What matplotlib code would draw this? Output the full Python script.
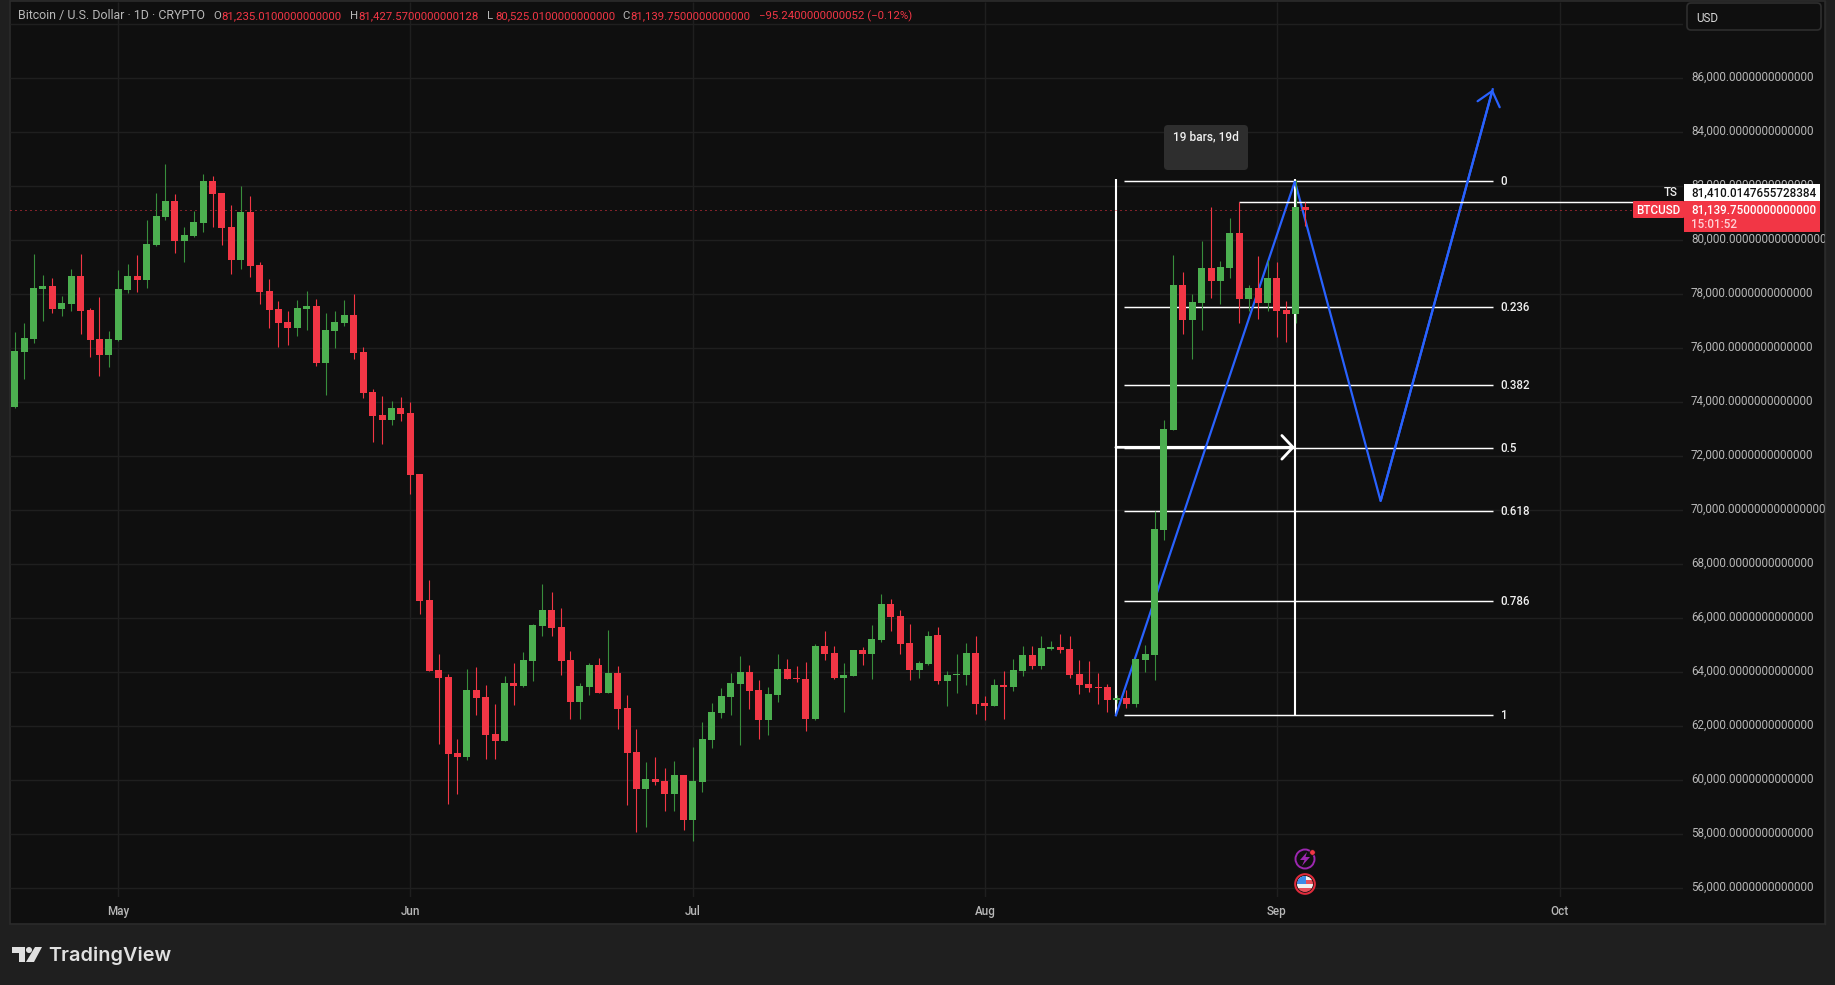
import matplotlib
matplotlib.use('Agg')
import matplotlib.pyplot as plt
from matplotlib.patches import Rectangle, Circle, FancyBboxPatch, Polygon

# daily candles, Apr 20 to Sep 4
opens = [73830, 75860, 76340, 78200, 78310, 77460, 77640, 78680, 77420, 76340, 75750, 76310, 78160, 78680,
         78530, 79830, 80860, 81460, 79970, 80160, 80640, 82200, 81750, 80490, 79270, 81050, 79090, 78120,
         77460, 76970, 76750, 77460, 77570, 75460, 76640, 76940, 77230, 75860, 74380, 73530, 73340, 73790,
         73600, 71340, 66680, 64090, 63830, 61010, 60860, 63350, 63090, 61720, 61460, 63600, 63490, 64420,
         65720, 66310, 65680, 64460, 62900, 63460, 64270, 63230, 63980, 62680, 61050, 59680, 60050, 59980,
         59490, 60200, 58530, 59940, 61490, 62490, 63090, 63570, 64010, 63350, 62230, 63160, 64120, 63790,
         63750, 62270, 64980, 64720, 63790, 63860, 64830, 64680, 65200, 66530, 66090, 65090, 64090, 64310,
         65380, 63680, 63900, 63900, 64720, 62860, 62750, 63530, 63460, 64050, 64640, 64230, 64860, 64940,
         64860, 63940, 63570, 63460, 63460, 62980, 63050, 62830, 64460, 64640, 69270, 72980, 78350, 77050,
         77680, 78980, 78490, 78980, 80270, 77830, 78230, 77680, 78600, 77420, 77270, 81235.01]
highs = [76600, 76940, 79490, 78720, 78600, 77940, 78940, 79490, 77490, 77900, 76640, 78900, 79120, 79460,
         80750, 81750, 82830, 81720, 80490, 81090, 82460, 82380, 81760, 81310, 82010, 81640, 79200, 78570,
         77750, 77380, 77790, 78120, 77830, 77310, 77380, 77790, 78010, 76050, 74490, 74230, 74050, 74200,
         74010, 71350, 67420, 64680, 63940, 61530, 64120, 64200, 63530, 62830, 63860, 64340, 64750, 65790,
         67270, 66980, 66380, 64790, 63600, 64350, 64530, 65570, 64230, 63160, 61900, 60680, 60860, 60460,
         60720, 60210, 61230, 62160, 62860, 63420, 63980, 64600, 64270, 63720, 63460, 64680, 64490, 64230,
         64380, 65050, 65530, 64980, 64350, 64840, 64940, 65750, 66900, 66720, 66310, 65790, 64420, 65530,
         65680, 64050, 64680, 65090, 65350, 63120, 63750, 64050, 64490, 64980, 64980, 65350, 65160, 65420,
         65350, 64460, 64420, 63980, 63570, 63160, 63350, 64500, 65010, 69980, 73350, 79460, 78830, 78010,
         79980, 81230, 79230, 80830, 81420, 78350, 79420, 79270, 79200, 77750, 82230, 81427.57]
lows = [73790, 74860, 76200, 77010, 77310, 77200, 77380, 76530, 75680, 74970, 75310, 76270, 78050, 78090,
        78230, 79790, 80750, 79530, 79200, 80120, 80310, 80490, 79830, 78750, 78940, 78640, 77640, 76750,
        76050, 76120, 76460, 76680, 75340, 74270, 76010, 76830, 75600, 74160, 72530, 72460, 73160, 73310,
        70600, 66160, 64040, 61340, 59120, 59490, 60750, 62420, 60790, 60790, 61440, 62790, 63460, 63680,
        65350, 65350, 63900, 62270, 62270, 63160, 63220, 63220, 61900, 59090, 58090, 58270, 59830, 58860,
        58860, 58160, 57750, 59570, 61200, 62310, 62420, 61310, 62640, 61530, 61680, 62900, 63740, 63640,
        61830, 62230, 64460, 63750, 62530, 63850, 64270, 63750, 65120, 65530, 64680, 63720, 63790, 64270,
        63570, 62750, 63230, 63530, 62460, 62230, 62740, 62270, 63310, 63860, 64120, 64120, 64830, 64720,
        63790, 63200, 63270, 62830, 62530, 62860, 62680, 62720, 64010, 63720, 68900, 72960, 76530, 75600,
        76680, 77860, 77640, 78600, 76940, 77380, 77090, 77380, 76420, 76230, 76940, 80525.01]
closes = [75900, 76380, 78230, 78310, 77460, 77680, 78680, 77380, 76310, 75750, 76340, 78200, 78680, 78530,
          79860, 80900, 81460, 79970, 80200, 80680, 82200, 81720, 80460, 79270, 81050, 79050, 78090, 77420,
          76940, 76750, 77490, 77570, 75460, 76680, 76970, 77230, 75830, 74340, 73490, 73340, 73790, 73570,
          71310, 66640, 64050, 63790, 60980, 60860, 63350, 63050, 61680, 61460, 63600, 63490, 64460, 65750,
          66310, 65640, 64420, 62900, 63490, 64270, 63230, 63980, 62640, 61010, 59680, 60050, 59940, 59490,
          60200, 58530, 59980, 61530, 62530, 63120, 63600, 64010, 63310, 62230, 63200, 64120, 63750, 63750,
          62270, 64980, 64680, 63790, 63900, 64830, 64680, 65230, 66530, 66050, 65050, 64090, 64350, 65350,
          63680, 63900, 63940, 64720, 62830, 62750, 63530, 63460, 64090, 64640, 64230, 64900, 64940, 64830,
          63900, 63530, 63420, 63420, 62980, 63050, 62830, 64490, 64680, 69310, 73010, 78350, 77050, 77720,
          78980, 78490, 79010, 80270, 77830, 78230, 77680, 78600, 77380, 77270, 81235, 81139.75]

price_ticks = [56000, 58000, 60000, 62000, 64000, 66000, 68000, 70000, 72000, 74000, 76000, 78000, 80000,
               82000, 84000, 86000]
long_labels = [70000, 80000]  # these two print with extra zeros in the reference
month_pos = [11, 42, 72, 103, 134, 164]
month_names = ['May', 'Jun', 'Jul', 'Aug', 'Sep', 'Oct']

fib_high = 82185
fib_low = 62407
fib_levels = [0, 0.236, 0.382, 0.5, 0.618, 0.786, 1]
fib_names = ['0', '0.236', '0.382', '0.5', '0.618', '0.786', '1']
fib_start, fib_end = 117.8, 156.9
range_start, range_end = 116.9, 135.9
range_price = 72333

path_idx = [116.9, 135.9, 145, 156.9]
path_price = [62407, 82185, 70345, 85593]

ts_value = 81410.0147655728384
ts_text = '81,410.0147655728384'
ts_start = 130
last_close = 81139.75

BG = '#0f0f0f'
FRAME = '#1f1f1f'
GRID = '#1f1f1f'
GREEN = '#4caf50'
GREEN_WICK = '#388e3c'
RED = '#f23645'
TXT = '#b8b8b8'
BLUE = '#2962ff'
W, H = 1835, 985
USD_PER_PX = 37.037

plt.rcParams['font.family'] = ['Roboto', 'DejaVu Sans']
fig = plt.figure(figsize=(W / 100, H / 100), dpi=100, facecolor=FRAME)


def px_axes(z):
    a = fig.add_axes([0, 0, 1, 1], zorder=z)
    a.set_xlim(0, W)
    a.set_ylim(H, 0)
    a.axis('off')
    return a


back = px_axes(0)
front = px_axes(2)

back.add_patch(Rectangle((10, 1), 1815, 923, facecolor=BG, edgecolor='#2b2b2b', lw=1.2))

# chart area, index 0 = first candle
ax = fig.add_axes([10 / W, (H - 897) / H, 1673 / W, 895 / H], zorder=1)
ax.patch.set_alpha(0)
ax.set_xlim(-0.499, 177.1)
ax.set_ylim(55678, 88826)
ax.axis('off')

ax.hlines(price_ticks + [88000], -0.499, 177.1, color=GRID, lw=1, zorder=1)
ax.vlines(month_pos, 55678, 88826, color=GRID, lw=1, zorder=1)

# overlay drawings go under the candles
for lev in fib_levels:
    p = fib_high - lev * (fib_high - fib_low)
    ax.hlines(p, fib_start, fib_end, color='white', lw=1.05, zorder=2)
for lev, name in zip(fib_levels, fib_names):
    p = fib_high - lev * (fib_high - fib_low)
    ax.text(fib_end + 0.85, p, name, color='#f0f0f0', fontsize=8.3, fontweight='medium', va='center', ha='left')

ax.vlines(range_start, fib_low, fib_high + 70, color='white', lw=1.5, zorder=2)
ax.vlines(range_end, fib_low, fib_high + 70, color='white', lw=1.5, zorder=2)
ax.annotate('', xy=(range_end, range_price), xytext=(range_start, range_price), zorder=2,
            arrowprops=dict(arrowstyle='->,head_length=0.8,head_width=0.85', mutation_scale=10, color='white',
                            lw=2.0, shrinkA=0, shrinkB=0))

ax.plot(path_idx, path_price, color=BLUE, lw=1.6, zorder=3, solid_joinstyle='miter')
ax.annotate('', xy=(path_idx[-1], path_price[-1]), xytext=(path_idx[-2], path_price[-2]), zorder=3,
            arrowprops=dict(arrowstyle='->,head_length=0.9,head_width=0.75', mutation_scale=11, color=BLUE,
                            lw=1.6, shrinkA=0, shrinkB=0))

ax.hlines(ts_value, ts_start, 171.8, color='white', lw=1.05, zorder=3)
ax.hlines(last_close, -0.499, 171.8, color=RED, lw=0.72, linestyles=(0, (1, 4)), zorder=3)

# candles
for i in range(len(opens)):
    o, h, l, c = opens[i], highs[i], lows[i], closes[i]
    up = c >= o
    ax.vlines(i, l, h, color=GREEN_WICK if up else RED, lw=0.8, zorder=4)
    ax.bar(i, abs(c - o), bottom=min(o, c), width=0.743, color=GREEN if up else RED, lw=0, zorder=5)

# price axis labels
for v in price_ticks:
    dec = 15 if v in long_labels else 13
    ax.text(177.1 + 8 / 9.42, v + USD_PER_PX, f'{v:,.{dec}f}', color=TXT, fontsize=8.4, va='center', ha='left',
            clip_on=False, zorder=1)

for x, name in zip(month_pos, month_names):
    ax.text(x, 55678 - 14 * USD_PER_PX, name, color=TXT, fontsize=8.4, fontweight='medium', ha='center', va='center',
            clip_on=False)

# frame strip over the clipped labels
front.add_patch(Rectangle((1825.5, 0), 10, 925, facecolor=FRAME, edgecolor='none'))
front.plot([1825, 1825], [1, 924], color='#2b2b2b', lw=1)

# header
front.text(18, 16, 'Bitcoin / U.S. Dollar · 1D · CRYPTO', color=TXT, fontsize=8.9, va='center')
header = [(213, 'O', TXT), (221, '81,235.0100000000000', RED), (350, 'H', TXT), (358, '81,427.5700000000128', RED),
          (487, 'L', TXT), (495, '80,525.0100000000000', RED), (622, 'C', TXT), (630, '81,139.7500000000000', RED),
          (759, '−95.2400000000052 (−0.12%)', RED)]
for x, s, col in header:
    front.text(x, 16, s, color=col, fontsize=8.2, va='center')

# USD button
front.add_patch(FancyBboxPatch((1689, 5), 130, 23, boxstyle='round,pad=2,rounding_size=4', facecolor=BG,
                               edgecolor='#2e2e2e', lw=1.2))
front.text(1696, 18, 'USD', color='#d8d8d8', fontsize=8.4, va='center')

# last price labels
front.add_patch(Rectangle((1684, 184), 136, 17, facecolor='white', edgecolor='none'))
front.text(1691, 192.5, ts_text, color='#111111', fontsize=8.4, fontweight='medium', va='center')
front.text(1678, 192.5, 'TS', color='#eeeeee', fontsize=8.4, fontweight='medium', va='center', ha='right')
front.add_patch(Rectangle((1684, 201), 136, 31, facecolor=RED, edgecolor='none'))
front.text(1691, 209.5, f'{last_close:,.13f}', color='white', fontsize=8.4, fontweight='medium', va='center')
front.text(1691, 224, '15:01:52', color='#ffd0d5', fontsize=8.4, fontweight='medium', va='center')
front.add_patch(FancyBboxPatch((1634, 202), 49, 15, boxstyle='round,pad=1,rounding_size=1', facecolor=RED,
                               edgecolor='none'))
front.text(1658, 210, 'BTCUSD', color='white', fontsize=8.4, fontweight='medium', va='center', ha='center')

# bars/days tooltip
front.add_patch(FancyBboxPatch((1167, 128), 78, 39, boxstyle='round,pad=3,rounding_size=4', facecolor='#2e2e2e',
                               edgecolor='none'))
front.text(1206, 137, '19 bars, 19d', color='#f0f0f0', fontsize=8.6, fontweight='medium', va='center', ha='center')

# event icons
front.add_patch(Circle((1305, 859), 9.5, facecolor='none', edgecolor='#9c27b0', lw=1.4))
front.add_patch(Polygon([(1307, 852), (1300, 860), (1304.5, 860), (1302, 866), (1310, 857), (1305.5, 857)],
                        facecolor='#9c27b0', edgecolor='none'))
front.add_patch(Circle((1312.5, 852.5), 2.8, facecolor=RED, edgecolor=BG, lw=0.5))
flag_clip = Circle((1305, 884), 8, transform=front.transData)
for y0, col in [(876, '#f0f0f0'), (880, '#e8505b'), (884, '#f0f0f0'), (888, '#e8505b')]:
    r = Rectangle((1297, y0), 16, 4, facecolor=col, edgecolor='none')
    front.add_patch(r)
    r.set_clip_path(flag_clip)
r = Rectangle((1297, 876), 9, 8, facecolor='#3d8be8', edgecolor='none')
front.add_patch(r)
r.set_clip_path(flag_clip)
front.add_patch(Circle((1305, 884), 9.8, facecolor='none', edgecolor='#e02b3c', lw=1.5))

# logo
logo = '#e0e0e0'
front.add_patch(Polygon([(12, 947), (25, 947), (25, 962), (19, 962), (19, 953), (12, 953)], facecolor=logo, edgecolor='none'))
front.add_patch(Circle((29, 950), 3, facecolor=logo, edgecolor='none'))
front.add_patch(Polygon([(35, 947), (42, 947), (34, 962), (26, 962)], facecolor=logo, edgecolor='none'))
front.text(48, 955.5, 'TradingView', color=logo, fontsize=14.3, fontweight='semibold', va='center', family=['Inter', 'DejaVu Sans'])

fig.savefig('out.png', dpi=100, facecolor=FRAME)
